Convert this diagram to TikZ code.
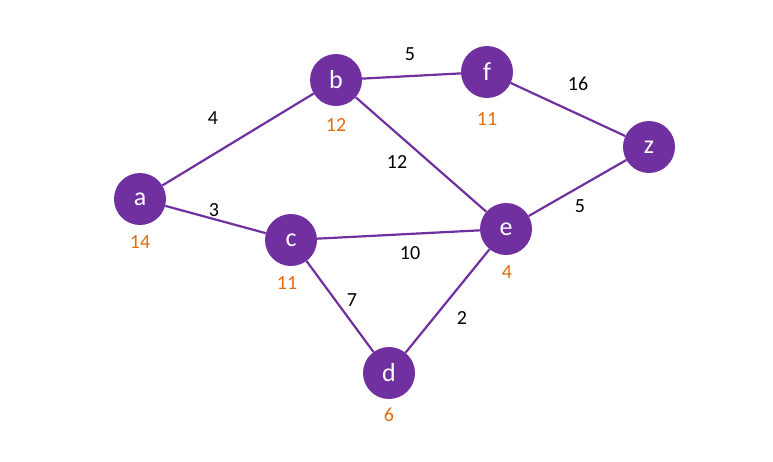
\documentclass[tikz,border=0pt]{standalone}
\usepackage{fontspec}
\setmainfont{Carlito}
\definecolor{pur}{RGB}{112,48,160}
\definecolor{org}{RGB}{228,108,10}
\begin{document}
\begin{tikzpicture}[x=1pt,y=-1pt,
  vtx/.style={circle,fill=pur,minimum size=52pt,inner sep=0pt,text=white,font=\fontsize{26}{30}\selectfont},
  edge/.style={draw=pur,line width=2.2pt},
  wl/.style={font=\fontsize{20}{24}\selectfont},
  dl/.style={font=\fontsize{20}{24}\selectfont,text=org}]
\useasboundingbox (0,0) rectangle (773,461);
\node[vtx] (a) at (140,199) {a};
\node[vtx] (b) at (336,80) {b};
\node[vtx] (f) at (487,72) {f};
\node[vtx] (z) at (649,147) {z};
\node[vtx] (c) at (291,240) {c};
\node[vtx] (e) at (506,229) {e};
\node[vtx] (d) at (389,373) {d};
\begin{scope}[on background layer/.style={}]
\end{scope}
\draw[edge] (a) -- (b); \draw[edge] (b) -- (f); \draw[edge] (f) -- (z);
\draw[edge] (b) -- (e); \draw[edge] (a) -- (c); \draw[edge] (c) -- (e);
\draw[edge] (z) -- (e); \draw[edge] (c) -- (d); \draw[edge] (e) -- (d);
\node[wl] (w1) at (213,118) {4};
\node[wl] (w2) at (410,54) {5};
\node[wl] (w3) at (578,84) {16};
\node[wl] (w4) at (397,162) {12};
\node[wl] (w5) at (214,210) {3};
\node[wl] (w6) at (410,253) {10};
\node[wl] (w7) at (580,206) {5};
\node[wl] (w8) at (352,300) {7};
\node[wl] (w9) at (462,318) {2};
\node[dl] (l1) at (336,125) {12};
\node[dl] (l2) at (487,119) {11};
\node[dl] (l3) at (140,242) {14};
\node[dl] (l4) at (287,283) {11};
\node[dl] (l5) at (507,272) {4};
\node[dl] (l6) at (389,415) {6};
\end{tikzpicture}
\end{document}
